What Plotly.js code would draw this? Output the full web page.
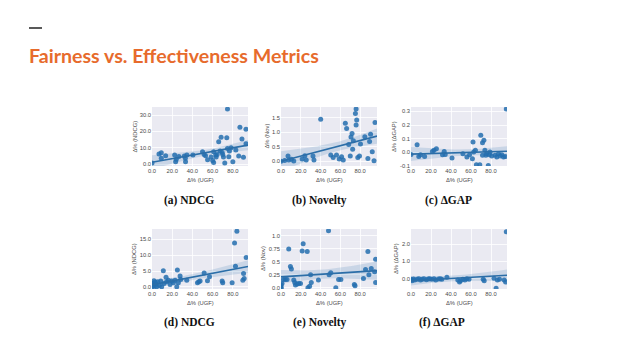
<!DOCTYPE html>
<html><head><meta charset="utf-8">
<script src="https://cdn.plot.ly/plotly-3.0.1.min.js"></script>
<style>html,body{margin:0;padding:0;background:#fff;}#chart{width:638px;height:359px;}</style>
</head><body><div id="chart"></div>
<script>
// ---- data ----
const ugfA = [0,6.9,9.2,9.2,13.5,22.4,24,23.4,26.6,32,33,33.2,34.5,40.5,50,51.6,53,55,58.5,60,61,61,63,63.5,64.5,66,67.4,68.4,69.4,70,70.7,72,74,74.7,74.7,76,76.6,78.3,80,83,85.8,87,89,90.5,93,93];
const ndcgA = [0.6,6.1,6.9,3.5,5.1,5.5,2.9,1.4,4.7,4.9,3.5,1.4,5.5,5.5,7.6,5.9,5.1,2.7,4.3,2.2,7.6,1,5.5,4.3,5.9,13.7,8,16.5,7.1,5.9,4.3,0.6,16.1,33.7,9.6,4.5,8,10,1.4,8.6,4.9,22.6,15.3,4.1,21.4,12.4];

const ugfB = [0,3.7,7.1,7.8,10.5,12.9,21.4,24.1,25.5,32.3,33.3,40.1,50.3,52.7,56.1,58.8,61.2,62.9,65,66.3,68.4,70,70.7,71.8,72.4,73.1,75.2,75.9,75.9,76.5,77.6,79.3,80.3,84.7,87.8,89.5,90.5,92.2,95,94];
const novB = [0,0.03,0.18,0.05,0.07,0.01,0.08,0.19,0.05,0.18,0.05,1.45,0.22,0.13,0.22,0.08,0.16,0.05,1.31,1.13,0.58,0.18,0.84,0.96,0.42,0.71,1.65,1.8,1.25,1.42,0.13,0.18,0.6,0.85,0.1,0.68,0.93,0.33,1.34,0.02];

const ugfC = [0,6.1,7.8,9.5,13.6,21.4,23,25.4,31.5,33.2,34.2,41,51.9,55.9,58.6,61.4,62,62.7,64.4,65.4,68.8,69.8,71.5,71.5,72.9,73.9,74.9,75.6,77.3,78.3,79,80.7,84.1,85.8,87.5,89.2,90.8,92.5,95.3,94.2];
const gapC = [-0.015,0.056,-0.03,-0.017,-0.03,0.007,0.015,0.027,-0.017,0.007,-0.015,-0.042,-0.01,-0.034,-0.017,-0.047,0.076,0.002,0.015,-0.091,-0.091,0.125,0.071,-0.022,0.088,0.015,-0.022,-0.01,-0.096,-0.017,0.002,-0.027,-0.022,-0.034,-0.01,-0.027,-0.017,-0.034,0.317,-0.03];

const ugfD = [0.3,0.7,1.3,2,2.3,3,4,4.6,5.6,7.3,8.6,9.6,11.2,11.9,13.9,14.5,16.2,17.9,19.5,21.2,22.8,24.5,25.1,26.1,27.8,28.4,34.4,45,46.3,47.6,51.6,54.9,56.9,69.4,70,79.3,81.7,82.6,84,89.9,90.6,91.2,93.2];
const ndcgD = [0,1.06,0.5,1.9,0.2,1.5,0.85,0,1.6,0.4,1.8,0,5.1,1.06,3.0,1.6,2.1,0.74,1.8,1.3,2.1,0,5.3,1.3,3.4,2.3,2.1,1.3,1.6,1.8,4.4,1.9,3.2,1.8,1.3,1.3,13.9,6.5,17.6,2.1,4.2,2.6,9.3];

const ugfE = [0,0,0.3,1,2.4,4.4,6.1,7.8,9.5,10.5,12.9,13.9,14.6,16.3,18,19.7,21.4,22.4,26.5,27.2,28.9,29.9,30.6,37.8,48,48.6,50.3,55.4,58.2,60.5,74.1,74.8,83.3,85.4,87.8,88.8,91.2,94.6,95.6,95.6];
const novE = [0.02,0.05,-0.01,0.08,0.16,0.16,0.16,0.75,0.41,0.36,0.15,0.1,0.05,0.07,0.08,0.08,0.71,0.85,0.7,0,0.03,0.25,0.1,0.15,1.1,0.25,0.29,0,0.16,0.16,0.06,0.04,0.18,0.35,0.7,0.25,0.37,0.31,0.55,0.1];

const ugfF = [0,1.0,2.4,3.7,6.1,7.8,9.5,11.2,12.9,15.3,17.3,18.6,20.7,23,24.7,27.5,29.2,30.8,35.9,46.8,48.5,49.5,51.9,53.9,55.9,58,72.2,73.2,83,85.1,86.4,88.5,93.2,94.6,95.3];
const gapF = [-0.04,-0.12,-0.02,-0.08,-0.04,0,-0.08,-0.04,0,-0.06,-0.02,0,-0.04,0,-0.08,-0.02,0,-0.04,0.08,-0.08,-0.19,-0.12,-0.04,-0.08,0,-0.04,-0.04,-0.12,0.02,-0.56,-0.08,-0.04,-0.08,-0.19,2.71];

const xTickVals = [0,20,40,60,80];
const xTickText = ['0.0','20.0','40.0','60.0','80.0'];
const yTicksA = [0,10,20,30], yTextA = ['0.0','10.0','20.0','30.0'];
const yTicksB = [0,0.5,1,1.5], yTextB = ['0.0','0.5','1.0','1.5'];
const yTicksC = [-0.1,0,0.1,0.2,0.3], yTextC = ['-0.1','0.0','0.1','0.2','0.3'];
const yTicksD = [0,5,10,15], yTextD = ['0.0','5.0','10.0','15.0'];
const yTicksE = [0,0.25,0.5,0.75,1], yTextE = ['0.0','0.25','0.5','0.75','1.0'];
const yTicksF = [0,1,2], yTextF = ['0.0','1.0','2.0'];
const xLabel = 'Δ% (UGF)';
const yLabels = ['Δ% (NDCG)','Δ% (Nov)','Δ% (ΔGAP)','Δ% (NDCG)','Δ% (Nov)','Δ% (ΔGAP)'];
const captions = ['(a) NDCG','(b) Novelty','(c) ΔGAP','(d) NDCG','(e) Novelty','(f) ΔGAP'];
const pageTitle = 'Fairness vs. Effectiveness Metrics';

// ---- layout configuration ----
const W = 638, H = 359;
const panels = [
  {x:ugfA, y:ndcgA, xr:[0,95], yr:[-1.2,35], tv:yTicksA, tt:yTextA, L:152, R:248, T:107, B:166, yto:18, cx:189, cy:200},
  {x:ugfB, y:novB, xr:[0,97], yr:[-0.16,1.87], tv:yTicksB, tt:yTextB, L:281, R:377, T:107, B:166, yto:15, cx:319, cy:200},
  {x:ugfC, y:gapC, xr:[0,96], yr:[-0.1,0.332], tv:yTicksC, tt:yTextC, L:411, R:507, T:107, B:166, yto:17.5, cx:449, cy:200},
  {x:ugfD, y:ndcgD, xr:[0,95], yr:[-0.7,18.3], tv:yTicksD, tt:yTextD, L:152, R:248, T:229, B:289, yto:18, cx:189.5, cy:322.5},
  {x:ugfE, y:novE, xr:[0,97], yr:[-0.025,1.135], tv:yTicksE, tt:yTextE, L:281, R:377, T:229, B:289, yto:18, cx:320, cy:322.5},
  {x:ugfF, y:gapF, xr:[0,96], yr:[-0.6,2.87], tv:yTicksF, tt:yTextF, L:411, R:507, T:229, B:289, yto:15, cx:441.5, cy:322.5}
];

function fit(xs, ys, x0, x1){
  const n = xs.length;
  const mx = xs.reduce((a,b)=>a+b,0)/n, my = ys.reduce((a,b)=>a+b,0)/n;
  let sxx=0, sxy=0;
  for(let i=0;i<n;i++){ sxx += (xs[i]-mx)**2; sxy += (xs[i]-mx)*(ys[i]-my); }
  const b = sxy/sxx, a = my - b*mx;
  let sse=0; for(let i=0;i<n;i++){ sse += (ys[i]-a-b*xs[i])**2; }
  const s = Math.sqrt(sse/(n-2)), t = 2.02;
  const gx=[], gy=[], lo=[], hi=[];
  for(let k=0;k<=60;k++){
    const x = x0 + (x1-x0)*k/60; const yh = a+b*x;
    const se = s*Math.sqrt(1/n + (x-mx)**2/sxx);
    gx.push(x); gy.push(yh); lo.push(yh - t*se); hi.push(yh + t*se);
  }
  return {gx, gy, lo, hi};
}

const blue = '#2b6ea8';
const traces = [];
const layout = {
  width: W, height: H, margin:{l:0,r:0,t:0,b:0},
  paper_bgcolor:'#ffffff', plot_bgcolor:'#eaeaf2', showlegend:false,
  annotations: [], shapes: []
};
const tickFont = {family:'Liberation Sans, Arial, sans-serif', size:5.8, color:'#4a4a4a'};

panels.forEach((p, i) => {
  const k = i===0 ? '' : String(i+1);
  const xa = 'x'+k, ya = 'y'+k;
  const f = fit(p.x, p.y, p.xr[0], p.xr[1]);
  traces.push({x: f.gx.concat(f.gx.slice().reverse()), y: f.hi.concat(f.lo.slice().reverse()),
    type:'scatter', mode:'lines', fill:'toself', fillcolor:'rgba(44,112,172,0.17)', line:{width:0},
    hoverinfo:'skip', xaxis:xa, yaxis:ya});
  traces.push({x: p.x, y: p.y, type:'scatter', mode:'markers',
    marker:{size:5, color:'rgba(36,110,175,0.85)', line:{width:0}}, xaxis:xa, yaxis:ya});
  traces.push({x: f.gx, y: f.gy, type:'scatter', mode:'lines', line:{color:blue, width:1.6}, xaxis:xa, yaxis:ya});
  layout['xaxis'+k] = {domain:[p.L/W, p.R/W], range:p.xr, anchor:ya, tickvals:xTickVals, ticktext:xTickText,
    showgrid:true, gridcolor:'#ffffff', gridwidth:0.8, zeroline:false, showline:false, ticks:'', tickfont:tickFont, automargin:false, fixedrange:true};
  layout['yaxis'+k] = {domain:[1-p.B/H, 1-p.T/H], range:p.yr, anchor:xa, tickvals:p.tv, ticktext:p.tt,
    showgrid:true, gridcolor:'#ffffff', gridwidth:0.8, zeroline:false, showline:false, ticks:'', tickfont:tickFont, automargin:false, fixedrange:true};
  layout.annotations.push({xref:'paper', yref:'paper', x:(p.L+p.R)/2/W, y:1-(p.B+13.5)/H, xanchor:'center', yanchor:'middle',
    text:xLabel, showarrow:false, font:tickFont});
  layout.annotations.push({xref:'paper', yref:'paper', x:(p.L-p.yto)/W, y:1-((p.T+p.B)/2)/H, xanchor:'center', yanchor:'middle',
    text:yLabels[i], textangle:-90, showarrow:false, font:tickFont});
  layout.annotations.push({xref:'paper', yref:'paper', x:p.cx/W, y:1-p.cy/H, xanchor:'center', yanchor:'middle',
    text:'<b>'+captions[i]+'</b>', showarrow:false, font:{family:'Liberation Serif, serif', size:11.5, color:'#111'}});
});

layout.annotations.push({xref:'paper', yref:'paper', x:27/W, y:1-55.5/H, xanchor:'left', yanchor:'middle',
  text:'<b>'+pageTitle+'</b>', showarrow:false, font:{family:'Lato, sans-serif', size:19.6, color:'#e76b2c'}});
layout.shapes.push({type:'line', xref:'paper', yref:'paper', x0:29/W, x1:42/W, y0:1-28/H, y1:1-28/H,
  line:{color:'#222222', width:1.5}});

Plotly.newPlot('chart', traces, layout, {staticPlot:true, displayModeBar:false});
</script>
</body></html>
